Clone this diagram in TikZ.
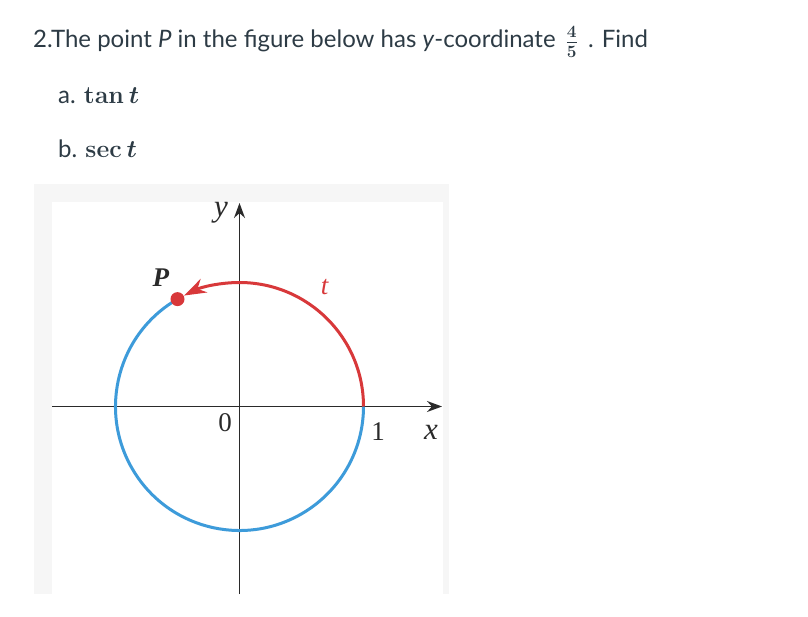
\documentclass[tikz,border=0pt]{standalone}
\usepackage[no-math]{fontspec}
\setmainfont{Lato}
\newfontfamily\figfont{Liberation Serif}
\usetikzlibrary{arrows.meta}
\definecolor{arcred}{HTML}{D8383A}
\definecolor{arcblue}{HTML}{3D9BDA}
\definecolor{axisgray}{HTML}{2A2A2A}
\definecolor{framegray}{HTML}{F6F6F6}
\definecolor{textgray}{HTML}{2D3B45}

\begin{document}
\begin{tikzpicture}[x=1pt, y=1pt,
		axis/.style={axisgray, line width=1.8pt, -{Stealth[length=15pt,width=11pt]}},
		unit/.style={line width=3pt},
		lbl/.style={inner sep=0pt, text=axisgray, font=\figfont\fontsize{27}{27}\selectfont},
		txt/.style={anchor=base west, inner sep=0pt, text=textgray, font=\fontsize{24}{28}\selectfont}]
		\useasboundingbox (0,0) rectangle (808,616);
		% frame round the figure
		\fill[framegray] (34,22) rectangle (449,432);
		\fill[white] (52,22) rectangle (443,414);
		% question
		\node[txt] (q) at (33,568) {2.The point \textit{P} in the figure below has \textit{y}-coordinate\, {\boldmath$\frac{4}{5}$}\, . Find};
		\node[txt] (qa) at (58,512) {a. {\boldmath$\tan t$}};
		\node[txt] (qb) at (58,458) {b. {\boldmath$\sec t$}};
		% axes
		\coordinate (O) at (239.5,209.5);
		\coordinate (xl) at (52,209.5);
		\coordinate (xr) at (442,209.5);
		\coordinate (yb) at (239.5,22);
		\coordinate (yt) at (239.5,413);
		\draw[axis] (xl) -- (xr);
		\draw[axis] (yb) -- (yt);
		% unit circle
		\draw[unit, arcblue] (O) ++(120:124) arc[start angle=120, end angle=360, radius=124];
		\draw[unit, arcred, -{Stealth[length=22pt,width=15pt]}] (O) ++(0:124) arc[start angle=0, end angle=116.5, radius=124];
		\node[circle, fill=arcred, inner sep=0pt, minimum size=14pt] (P) at ([shift={(120:124)}]O) {};
		% labels
		\node[lbl] (plbl) at (161,338) {\textbf{\textit{P}}};
		\node[lbl, text=arcred] (tlbl) at (325,329) {\textit{t}};
		\node[lbl, font=\figfont\fontsize{31}{31}\selectfont] (ylbl) at (221,403) {\textit{y}};
		\node[lbl] (zero) at (225,193) {0};
		\node[lbl] (one) at (378,184) {1};
		\node[lbl, font=\figfont\fontsize{31}{31}\selectfont] (xlbl) at (431,184) {\textit{x}};
\end{tikzpicture}
\end{document}
